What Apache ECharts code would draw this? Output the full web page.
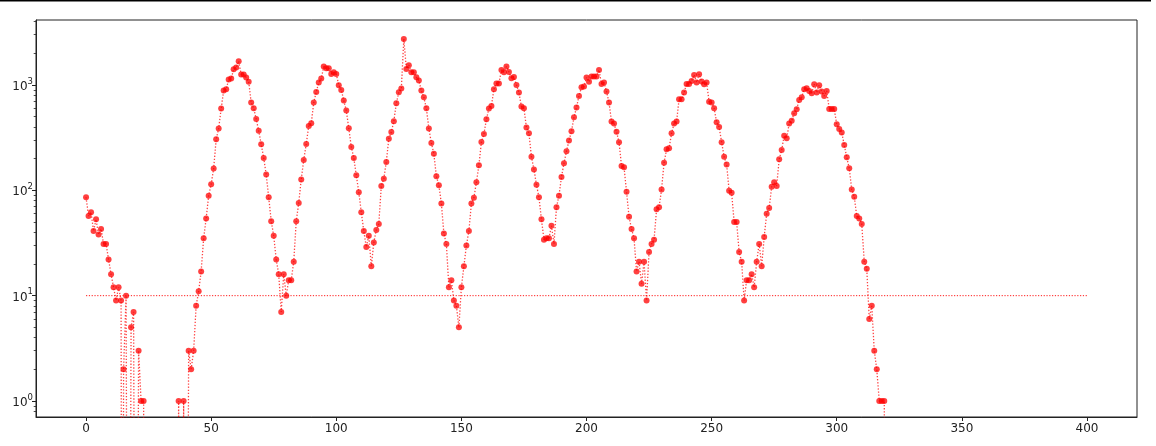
<!DOCTYPE html>
<html>
<head>
<meta charset="utf-8">
<script src="https://cdn.jsdelivr.net/npm/echarts@6/dist/echarts.min.js"></script>
<style>
  html, body { margin: 0; padding: 0; background: #fff; }
  #chart { width: 1156px; height: 446px; }
</style>
</head>
<body>
<div id="chart"></div>
<script>
// daily counts, x = 0..320
const counts = [
  86, 57, 62, 41, 53, 38, 43, 31, 31, 22,
  16, 12, 9, 12, 9, 2, 10, 0, 5, 7,
  0, 3, 1, 1, 0, 0, 0, 0, 0, 0,
  0, 0, 0, 0, 0, 0, 0, 1, 0, 1,
  0, 3, 2, 3, 8, 11, 17, 35, 54, 89,
  114, 161, 305, 386, 597, 885, 912, 1125, 1150, 1410,
  1465, 1683, 1260, 1260, 1180, 1075, 681, 601, 476, 367,
  274, 203, 141, 86, 51, 37, 22, 16, 7, 16,
  10, 14, 14, 21, 51, 76, 127, 194, 276, 409,
  433, 681, 860, 1054, 1150, 1497, 1445, 1445, 1275, 1320,
  1275, 995, 898, 711, 572, 389, 258, 203, 139, 96,
  62, 41, 29, 37, 19, 32, 42, 48, 110, 129,
  186, 309, 357, 453, 671, 853, 925, 2740, 1422, 1541,
  1322, 1322, 1185, 1102, 885, 765, 601, 386, 282, 222,
  136, 112, 75, 39, 31, 12, 14, 9, 8, 5,
  12, 19, 30, 41, 75, 85, 119, 173, 288, 343,
  473, 597, 632, 912, 1032, 1032, 1390, 1322, 1497, 1331,
  1159, 1194, 1000, 847, 624, 602, 394, 348, 208, 158,
  113, 86, 53, 34, 35, 35, 46, 31, 69, 89,
  134, 181, 235, 297, 364, 494, 611, 788, 953, 967,
  1175, 1071, 1203, 1203, 1203, 1390, 1023, 1055, 867, 681,
  450, 430, 359, 286, 170, 166, 97, 56, 43, 35,
  17, 21, 13, 21, 9, 26, 31, 34, 66, 69,
  102, 183, 245, 251, 348, 430, 450, 732, 732, 847,
  1023, 1023, 1093, 1247, 1055, 1266, 1079, 1017, 1055, 692,
  681, 602, 443, 400, 286, 208, 176, 99, 95, 50,
  50, 26, 21, 9, 14, 14, 16, 12, 21, 31,
  19, 36, 60, 68, 108, 119, 110, 197, 242, 329,
  312, 430, 457, 540, 589, 722, 765, 912, 931, 879,
  835, 1017, 847, 995, 867, 788, 879, 593, 593, 593,
  424, 383, 353, 270, 206, 162, 102, 87, 57, 54,
  48, 21, 18, 6, 8, 3, 2, 1, 1, 1,
  0
];
// extra zero samples between whole days
const extraZeros = [14.5];
const threshold = 10;
const thresholdRange = [0, 400];
const xTicks = [0, 50, 100, 150, 200, 250, 300, 350, 400];
const yDecades = [0, 1, 2, 3];

// log axis limits (matplotlib auto margins)
const yMin = Math.pow(10, -0.152);
const yMax = Math.pow(10, 3.617);
const ZERO = 1e-6; // zeros fall off the bottom of a log axis

const minorTicks = [];
for (let d = -1; d <= 3; d++) {
  for (let k = 2; k <= 9; k++) {
    const v = Math.log10(k) + d;
    if (v > -0.152 && v < 3.617) minorTicks.push(v);
  }
}

let points = counts.map((v, i) => [i, v]);
extraZeros.forEach(x => points.push([x, 0]));
points.sort((a, b) => a[0] - b[0]);
points = points.map(p => [p[0], p[1] > 0 ? p[1] : ZERO]);

const red = 'rgba(255, 0, 0, 0.75)';
const axisColor = '#222';
const font = 'DejaVu Sans';

const chart = echarts.init(document.getElementById('chart'));
chart.setOption({
  animation: false,
  textStyle: { fontFamily: font },
  grid: {
    left: 36, right: 19, top: 20, bottom: 29,
    show: true, borderColor: axisColor, borderWidth: 1,
    outerBoundsMode: 'none'
  },
  graphic: [{
    type: 'rect',
    left: 0, top: 0,
    shape: { width: 1151, height: 1.6 },
    style: { fill: '#000' }
  }],
  xAxis: {
    type: 'value',
    min: -20, max: 420,
    splitLine: { show: false },
    axisLine: { show: true, onZero: false, lineStyle: { color: axisColor, width: 1 } },
    axisTick: { show: true, customValues: xTicks, length: 4, lineStyle: { color: axisColor } },
    axisLabel: {
      customValues: xTicks, color: '#222', fontSize: 12, fontFamily: font, margin: 6
    }
  },
  yAxis: [
    {
      // data axis
      type: 'log', logBase: 10, min: yMin, max: yMax,
      show: false
    },
    {
      // major ticks + labels, in decades
      type: 'value', min: -0.152, max: 3.617, position: 'left',
      splitLine: { show: false },
      axisLine: { show: true, lineStyle: { color: axisColor, width: 1 } },
      axisTick: { show: true, customValues: yDecades, length: 4, lineStyle: { color: axisColor } },
      axisLabel: {
        customValues: yDecades,
        margin: 3,
        formatter: v => '{b|10}{e|' + Math.round(v) + '}',
        rich: {
          b: { fontSize: 12, color: '#222', fontFamily: font, lineHeight: 16, verticalAlign: 'bottom' },
          e: { fontSize: 8.5, color: '#222', fontFamily: font, lineHeight: 16, verticalAlign: 'top', padding: [0, 0, 4, 0] }
        }
      }
    },
    {
      // minor ticks
      type: 'value', min: -0.152, max: 3.617, position: 'left',
      splitLine: { show: false },
      axisLine: { show: false },
      axisTick: { show: true, customValues: minorTicks, length: 2.3, lineStyle: { color: axisColor, width: 0.8 } },
      axisLabel: { show: false }
    }
  ],
  series: [
    {
      type: 'line',
      yAxisIndex: 0,
      data: points,
      clip: true,
      showSymbol: true,
      showAllSymbol: true,
      symbol: 'circle',
      symbolSize: 6,
      itemStyle: { color: red },
      lineStyle: { color: red, width: 1.3, type: [1.3, 1.8] },
      z: 3
    },
    {
      type: 'line',
      yAxisIndex: 0,
      data: thresholdRange.map(x => [x, threshold]),
      showSymbol: false,
      lineStyle: { color: 'rgba(255, 0, 0, 0.9)', width: 1, type: [1.2, 1.6] },
      z: 2
    }
  ]
});
</script>
</body>
</html>
